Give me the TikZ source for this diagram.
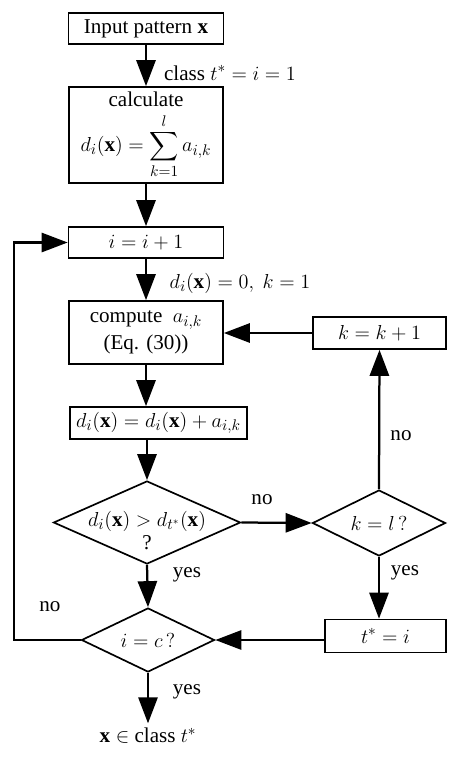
\documentclass[tikz,border=0pt]{standalone}
\usepackage{fontspec}
\setmainfont{Liberation Serif}
\usepackage{amsmath}
\usetikzlibrary{shapes.geometric, arrows.meta}
\tikzset{
    every node/.style={font=\fontsize{15}{19}\selectfont},
    block/.style={
        draw,
        line width=1.2pt,
        align=center,
        inner sep=0pt
    },
    decision/.style={
        draw,
        diamond,
        line width=1.2pt,
        inner sep=0pt
    },
    flow/.style={
        draw,
        line width=1.6pt,
        -{Triangle[length=0.65cm,width=0.48cm]}
    }
}

\begin{document}
\begin{tikzpicture}[x=0.025cm,y=-0.025cm]
        \useasboundingbox (0,0) rectangle (474,758);

        \node[block, minimum width=3.875cm, minimum height=0.775cm] (input) at (146,28.5) {Input pattern $\mathbf{x}$};
        \node[block, minimum width=3.85cm, minimum height=2.4cm] (calc) at (146,135)
            {calculate\\[4pt] $\displaystyle d_i(\mathbf{x}) = \sum_{k=1}^{l} a_{i,k}$};
        \node[block, minimum width=3.875cm, minimum height=0.775cm] (inc) at (146,242.5) {$i = i + 1$};
        \node[block, minimum width=3.85cm, minimum height=1.575cm] (comp) at (146,332.5)
            {compute\ \ $a_{i,k}$\\ (Eq. (30))};
        \node[block, minimum width=4.425cm, minimum height=0.8cm] (upd) at (158.5,423)
            {$d_i(\mathbf{x}) = d_i(\mathbf{x}) + a_{i,k}$};
        \node[decision, minimum width=4.675cm, minimum height=2.075cm,
            label={[yshift=-0.2cm, align=center]center:$d_i(\mathbf{x}) > d_{t^*}(\mathbf{x})$\\[-2pt] ?}] (dec1) at (147,522.5) {};
        \node[decision, minimum width=3.325cm, minimum height=1.65cm,
            label={center:$k = l\,?$}] (dec2) at (379,523) {};
        \node[block, minimum width=3.325cm, minimum height=0.8cm] (kinc) at (379.5,333) {$k = k + 1$};
        \node[block, minimum width=3.025cm, minimum height=0.825cm] (tset) at (385.5,636) {$t^* = i$};
        \node[decision, minimum width=3.325cm, minimum height=1.6cm,
            label={center:$i = c\,?$}] (dec3) at (148,640) {};
        \node (out) at (148,736) {$\mathbf{x} \in$\ class $t^*$};

        % labels on the arrows
        \node (init) at (230,73) {class $t^* = i = 1$};
        \node (reset) at (240,283) {$d_i(\mathbf{x}) = 0,\ k = 1$};
        \node (no1) at (262,500) {no};
        \node (no2) at (401,436) {no};
        \node (yes1) at (187,575) {yes};
        \node (yes2) at (405,573) {yes};
        \node (no3) at (50,607) {no};
        \node (yes3) at (187,692) {yes};
        \coordinate (back) at (14,0);

        \draw[flow] (input) -- (calc);
        \draw[flow] (calc) -- (inc);
        \draw[flow] (inc) -- (comp);
        \draw[flow] (comp.south) -- (comp.south |- upd.north);
        \draw[flow] (upd.south -| dec1.north) -- (dec1.north);
        \draw[flow] (dec1.east) -- (dec2.west);
        \draw[flow] (dec2.north) -- (kinc.south);
        \draw[flow] (kinc.west) -- (comp.east |- kinc.west);
        \draw[flow] (dec2.south) -- (dec2.south |- tset.north);
        \draw[flow] (tset.west |- dec3.east) -- (dec3.east);
        \draw[flow] (dec1.south) -- (dec3.north);
        \draw[flow] (dec3.west) -- (dec3.west -| back) |- (inc.west);
        \draw[flow] (dec3.south) -- (out.north);
    \end{tikzpicture}
\end{document}
